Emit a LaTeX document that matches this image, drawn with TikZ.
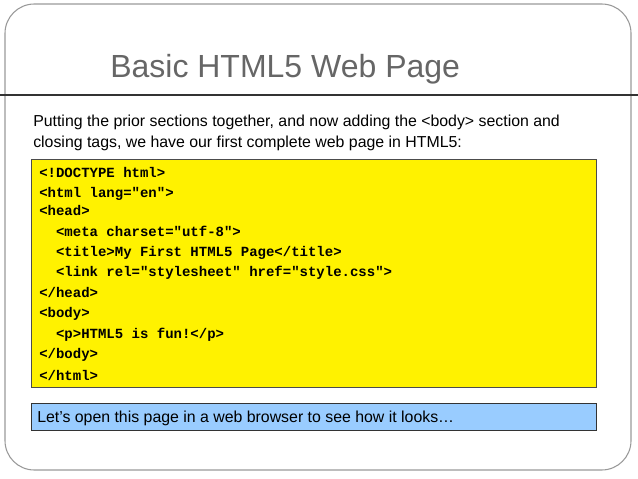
\documentclass[tikz,border=0pt]{standalone}
\usepackage{fontspec}
\setmainfont{Liberation Sans}
\newfontfamily\codefont{Liberation Mono}
\begin{document}
\begin{tikzpicture}[x=0.75pt,y=-0.75pt,
  body/.style={anchor=base west,inner sep=0pt,font=\fontsize{11.9pt}{14pt}\selectfont},
  code/.style={anchor=base west,inner sep=0pt,font=\codefont\bfseries\fontsize{10.5pt}{13pt}\selectfont}]
\useasboundingbox (0,0) rectangle (638,478);
\draw[gray!80,line width=0.8pt,rounded corners=22pt] (5,4) rectangle (631,470);
\draw[black!80,line width=0.8pt] (0,95) -- (638,95);
\node[anchor=base west,inner sep=0pt,text=black!60,font=\fontsize{24pt}{28pt}\selectfont] (title) at (110,77) {Basic HTML5 Web Page};
\node[body] (p1) at (33,126) {Putting the prior sections together, and now adding the <body> section and};
\node[body] (p2) at (33,147) {closing tags, we have our first complete web page in HTML5:};
\node[draw=black!70,fill=yellow,line width=0.6pt,minimum width=565*0.75pt,minimum height=228*0.75pt,anchor=north west,inner sep=0pt] (box) at (31,159) {};
\node[code] (c1) at (39,177) {<!DOCTYPE html>};
\node[code] (c2) at (39,197) {<html lang="en">};
\node[code] (c3) at (39,215) {<head>};
\node[code] (c4) at (39,236) {\ \ <meta charset="utf-8">};
\node[code] (c5) at (39,256) {\ \ <title>My First HTML5 Page</title>};
\node[code] (c6) at (39,276) {\ \ <link rel="stylesheet" href="style.css">};
\node[code] (c7) at (39,297) {</head>};
\node[code] (c8) at (39,317) {<body>};
\node[code] (c9) at (39,338) {\ \ <p>HTML5 is fun!</p>};
\node[code] (c10) at (39,358) {</body>};
\node[code] (c11) at (39,380) {</html>};
\node[draw=black!80,fill={rgb,255:red,153;green,204;blue,255},line width=0.6pt,minimum width=565*0.75pt,minimum height=27*0.75pt,anchor=north west,inner sep=0pt] (bbox) at (31,403) {};
\node[body] (p3) at (37,422) {Let's open this page in a web browser to see how it looks…};
\end{tikzpicture}
\end{document}
